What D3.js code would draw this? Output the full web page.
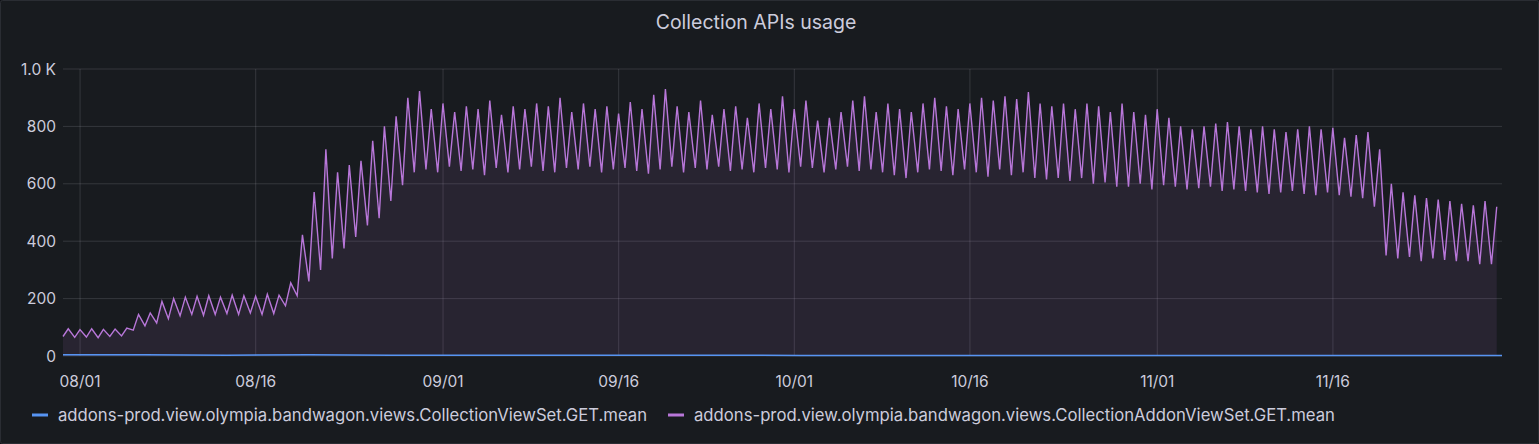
<!DOCTYPE html>
<html><head><meta charset="utf-8">
<script src="https://cdn.jsdelivr.net/npm/d3@7"></script>
<style>body{margin:0;background:#111217;}svg{display:block;font-family:Inter,"Noto Sans",sans-serif;}</style>
</head><body><svg id="c" width="1539" height="444"></svg>
<script>
const title = "Collection APIs usage";
const seriesNames = ["addons-prod.view.olympia.bandwagon.views.CollectionViewSet.GET.mean",
                     "addons-prod.view.olympia.bandwagon.views.CollectionAddonViewSet.GET.mean"];
const startDate = "2023-07-30T13:00:00Z";
// daily peak / trough values of CollectionAddonViewSet
const peaks = [95,92,95,93,94,97, 145,150,190,200,
  205,208,210,205,212,210,208,215,212, 255,422,571,720,640,665,680,750,800,835,900,923,
  860,880,850,870,860,890,840,870,860,880,
  870,900,850,880,860,870,845,885,860,910,
  930,870,850,890,840,860,870,830,880,860,
  905,860,890,820,830,850,890,905,850,880,
  860,850,880,900,870,860,880,900,890,905,
  895,920,880,870,880,860,880,870,850,880,
  850,840,860,830,800,790,800,810,815,800,
  790,800,790,780,790,800,790,795,760,770,
  780,720,
  600,570,560,550,545,540,530,525,540,520];
const troughs = [68,65,66,64,68,70, 90,105,115,130,
  140,145,142,145,148,145,150,145,148, 175,210,260,300,340,375,415,455,480,540,595,640,
  650,640,660,645,650,630,655,640,650,660,
  645,640,655,650,660,640,650,655,645,635,
  650,660,640,655,650,660,645,650,640,655,
  650,640,660,655,640,650,660,645,650,640,
  630,620,640,650,645,630,650,640,625,650,
  630,640,620,615,620,610,620,600,605,590,
  590,600,580,595,590,580,585,590,575,580,
  575,570,565,570,575,565,560,570,560,555,
  550,520,
  350,340,345,330,340,335,330,330,320,320];
// weekly values of CollectionViewSet
const blueWeekly = [4,4,3,4,3,3,3,3,3,2,2,2,2,2,2,2,2,2];
const yTicks = [0,200,400,600,800,1000];
const xTickLabels = ["2023-08-01","2023-08-16","2023-09-01","2023-09-16","2023-10-01","2023-10-16","2023-11-01","2023-11-16"];

const DAY = 864e5, t0 = new Date(startDate).getTime();
const purple = [];
peaks.forEach((p,i)=>{ purple.push({t:new Date(t0+i*DAY), v:troughs[i]}); purple.push({t:new Date(t0+(i+0.45)*DAY), v:p}); });
const endT = new Date(t0+122.9*DAY);
const blue = blueWeekly.map((v,i)=>({t:new Date(Math.min(t0+i*7*DAY,endT)), v}));
blue.push({t:endT, v:2});

const svg = d3.select("#c");
svg.append("rect").attr("x",0.5).attr("y",0.5).attr("width",1538).attr("height",443).attr("rx",2)
  .attr("fill","#181b1f").attr("stroke","#2a2d33");
svg.append("text").attr("x",756).attr("y",29).attr("text-anchor","middle").attr("fill","#ccccdc")
  .attr("font-size",19.5).text(title);

const x = d3.scaleUtc().domain([new Date(t0), endT]).range([63,1502]);
const y = d3.scaleLinear().domain([0,1000]).range([356,69]);
const grid = svg.append("g");
yTicks.forEach(v=>{
  grid.append("line").attr("x1",63).attr("x2",1502).attr("y1",y(v)).attr("y2",y(v)).attr("stroke","rgba(204,204,220,0.16)");
  svg.append("text").attr("x",56).attr("y",y(v)+5.5).attr("text-anchor","end").attr("fill","#ccccdc").attr("font-size",15.5)
    .text(v===1000?"1.0 K":v);
});
xTickLabels.forEach(s=>{
  const d = new Date(s+"T00:00:00Z");
  grid.append("line").attr("x1",x(d)).attr("x2",x(d)).attr("y1",69).attr("y2",356).attr("stroke","rgba(204,204,220,0.16)");
  svg.append("text").attr("x",x(d)).attr("y",387).attr("text-anchor","middle").attr("fill","#ccccdc").attr("font-size",15.5)
    .text(d3.utcFormat("%m/%d")(d));
});
const area = d3.area().x(d=>x(d.t)).y0(y(0)).y1(d=>y(d.v));
const line = d3.line().x(d=>x(d.t)).y(d=>y(d.v));
svg.append("path").datum(purple).attr("d",area).attr("fill","rgba(184,119,217,0.1)");
svg.append("path").datum(purple).attr("d",line).attr("fill","none").attr("stroke","#b877d9").attr("stroke-width",1.4);
svg.append("path").datum(blue).attr("d",area).attr("fill","rgba(87,148,242,0.1)");
svg.append("path").datum(blue).attr("d",line).attr("fill","none").attr("stroke","#5794f2").attr("stroke-width",1.5);

const leg = [{x:32,c:"#5794f2",n:seriesNames[0]},{x:668,c:"#b877d9",n:seriesNames[1]}];
leg.forEach(l=>{
  svg.append("line").attr("x1",l.x).attr("x2",l.x+16).attr("y1",415).attr("y2",415).attr("stroke",l.c).attr("stroke-width",3);
  svg.append("text").attr("x",l.x+26).attr("y",421).attr("fill","#ccccdc").attr("font-size",16.7).text(l.n);
});
</script></body></html>
